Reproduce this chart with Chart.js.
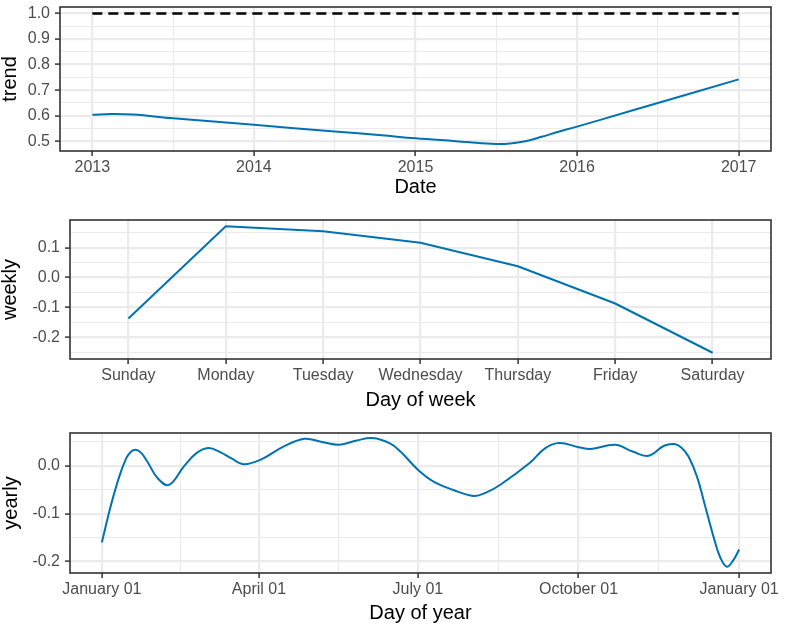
<!DOCTYPE html>
<html>
<head>
<meta charset="utf-8">
<script src="https://cdn.jsdelivr.net/npm/chart.js@4.4.1/dist/chart.umd.min.js"></script>
<style>
  body { margin: 0; background: #fff; }
  #wrap { position: relative; width: 786px; height: 629px; }
  canvas { position: absolute; left: 0; }
</style>
</head>
<body>
<div id="wrap">
  <canvas id="trendChart" width="786" height="200" style="top:0px"></canvas>
  <canvas id="weeklyChart" width="786" height="210" style="top:200px"></canvas>
  <canvas id="yearlyChart" width="786" height="219" style="top:410px"></canvas>
</div>
<script>
// trend component
const trendYears  = [2013.00, 2013.12, 2013.25, 2013.50, 2014.00, 2014.50, 2014.79, 2015.00,
                     2015.25, 2015.47, 2015.57, 2015.68, 2015.78, 2015.88, 2016.00, 2016.34, 2017.00];
const trendValues = [0.603, 0.606, 0.604, 0.590, 0.564, 0.538, 0.523, 0.511,
                     0.500, 0.490, 0.490, 0.500, 0.517, 0.536, 0.557, 0.620, 0.742];
const capYears  = [2013, 2017];
const capValues = [1.0, 1.0];

// weekly component
const weekDays     = ['Sunday', 'Monday', 'Tuesday', 'Wednesday', 'Thursday', 'Friday', 'Saturday'];
const weeklyValues = [-0.137, 0.172, 0.155, 0.117, 0.038, -0.087, -0.252];

// yearly component (day of year)
const yearDays = [0, 5, 10, 14, 16.5, 19.4, 22.5, 26, 32, 38.4, 47, 54, 61, 68, 74, 81, 91, 104, 116, 126,
                  136, 146, 155, 165, 171, 181, 190, 201, 213, 220, 228, 245, 254, 262, 273,
                  280, 294, 304, 313, 322, 328, 332, 336, 340.8, 345.6, 350.3, 354, 357.9, 361.7, 365];
const yearlyValues = [-0.160, -0.085, -0.022, 0.016, 0.029, 0.0335, 0.027, 0.009, -0.026, -0.040, -0.001, 0.026,
                      0.037, 0.028, 0.016, 0.0035, 0.013, 0.040, 0.0566, 0.050, 0.044, 0.053,
                      0.058, 0.047, 0.030, -0.008, -0.033, -0.050, -0.063, -0.056, -0.040, 0.006,
                      0.037, 0.0475, 0.039, 0.035, 0.044, 0.030, 0.021, 0.042, 0.0455, 0.038, 0.0195,
                      -0.022, -0.085, -0.148, -0.190, -0.211, -0.197, -0.175];
const yearTickDays   = [0, 90, 181, 273, 365];
const yearTickLabels = ['January 01', 'April 01', 'July 01', 'October 01', 'January 01'];
const yearMinorDays  = [45, 135.5, 227, 319];

// tick / gridline positions
const trendYTicks  = [0.5, 0.6, 0.7, 0.8, 0.9, 1.0];
const trendYMinor  = [0.55, 0.65, 0.75, 0.85, 0.95];
const trendXTicks  = [2013, 2014, 2015, 2016, 2017];
const trendXMinor  = [2013.5, 2014.5, 2015.5, 2016.5];
const weeklyYTicks = [-0.2, -0.1, 0.0, 0.1];
const weeklyYMinor = [-0.25, -0.15, -0.05, 0.05, 0.15];
const yearlyYTicks = [-0.2, -0.1, 0.0];
const yearlyYMinor = [-0.15, -0.05, 0.05];

const BLUE = '#0072B2';
Chart.defaults.font.family = '"Liberation Sans", Arial, sans-serif';
Chart.defaults.animation = false;

// panel border like theme_bw
const framePlugin = {
    id: 'frame',
    afterDraw(chart) {
        const { ctx, chartArea: a } = chart;
        ctx.save();
        ctx.strokeStyle = '#333333';
        ctx.lineWidth = 1.6;
        ctx.strokeRect(a.left, a.top, a.right - a.left, a.bottom - a.top);
        ctx.restore();
    }
};

const isIn = (list, v) => list.some(m => Math.abs(m - v) < 1e-9);

// build a linear axis with major + minor gridlines
function makeAxis(opts) {
    const { min, max, major, minor, label, size, title, titlePad, isX } = opts;
    return {
        type: 'linear',
        min: min,
        max: max,
        border: { display: false },
        afterBuildTicks(scale) {
            scale.ticks = major.concat(minor).sort((a, b) => a - b).map(v => ({ value: v }));
        },
        afterFit(scale) {
            if (isX) scale.height = size; else scale.width = size;
            scale.paddingTop = 0;
            scale.paddingBottom = 0;
            scale.paddingLeft = 0;
            scale.paddingRight = 0;
        },
        grid: {
            color: '#EBEBEB',
            lineWidth: (c) => (c.tick && isIn(major, c.tick.value)) ? 2.2 : 1.1,
            tickColor: (c) => (c.tick && isIn(major, c.tick.value)) ? '#333333' : 'rgba(0,0,0,0)',
            tickLength: 5,
            tickWidth: 1.5
        },
        ticks: {
            autoSkip: false,
            maxRotation: 0,
            color: '#4D4D4D',
            font: { size: 16 },
            padding: isX ? 2 : 5,
            callback: (v) => isIn(major, v) ? label(v) : ''
        },
        title: {
            display: true,
            text: title,
            color: '#000000',
            font: { size: 20, lineHeight: 1 },
            padding: isX ? { top: 0, bottom: titlePad } : { top: titlePad, bottom: 0 }
        }
    };
}

function lineOptions(padTop, xAxis, yAxis) {
    return {
        responsive: false,
        layout: { autoPadding: false, padding: { top: padTop, right: 15, left: 0, bottom: 0 } },
        plugins: { legend: { display: false }, tooltip: { enabled: false } },
        scales: { x: xAxis, y: yAxis }
    };
}

const toPoints = (xs, ys) => xs.map((x, i) => ({ x: x, y: ys[i] }));

// trend
new Chart(document.getElementById('trendChart'), {
    type: 'line',
    data: {
        datasets: [
            {
                data: toPoints(capYears, capValues),
                borderColor: '#000000',
                borderWidth: 2.5,
                borderDash: [10, 6],
                pointRadius: 0
            },
            {
                data: toPoints(trendYears, trendValues),
                borderColor: BLUE,
                borderWidth: 2,
                pointRadius: 0,
                tension: 0.4
            }
        ]
    },
    options: lineOptions(7,
        makeAxis({ min: 2012.8, max: 2017.2, major: trendXTicks, minor: trendXMinor,
                   label: v => String(v), size: 49, title: 'Date', titlePad: 3, isX: true }),
        makeAxis({ min: 0.4615, max: 1.0255, major: trendYTicks, minor: trendYMinor,
                   label: v => v.toFixed(1), size: 60, title: 'trend', titlePad: 0, isX: false })),
    plugins: [framePlugin]
});

// weekly
new Chart(document.getElementById('weeklyChart'), {
    type: 'line',
    data: {
        datasets: [{
            data: toPoints(weekDays.map((d, i) => i), weeklyValues),
            borderColor: BLUE,
            borderWidth: 2,
            pointRadius: 0,
            tension: 0
        }]
    },
    options: lineOptions(20,
        makeAxis({ min: -0.6, max: 6.6, major: [0, 1, 2, 3, 4, 5, 6], minor: [],
                   label: v => weekDays[Math.round(v)], size: 51, title: 'Day of week', titlePad: 0, isX: true }),
        makeAxis({ min: -0.273, max: 0.193, major: weeklyYTicks, minor: weeklyYMinor,
                   label: v => v.toFixed(1), size: 70, title: 'weekly', titlePad: 0, isX: false })),
    plugins: [framePlugin]
});

// yearly
new Chart(document.getElementById('yearlyChart'), {
    type: 'line',
    data: {
        datasets: [{
            data: toPoints(yearDays, yearlyValues),
            borderColor: BLUE,
            borderWidth: 2,
            pointRadius: 0,
            tension: 0.4
        }]
    },
    options: lineOptions(23,
        makeAxis({ min: -18.25, max: 383.25, major: yearTickDays, minor: yearMinorDays,
                   label: v => yearTickLabels[yearTickDays.indexOf(v)], size: 56, title: 'Day of year', titlePad: 6, isX: true }),
        makeAxis({ min: -0.224, max: 0.0686, major: yearlyYTicks, minor: yearlyYMinor,
                   label: v => v.toFixed(1), size: 70, title: 'yearly', titlePad: 1, isX: false })),
    plugins: [framePlugin]
});
</script>
</body>
</html>
